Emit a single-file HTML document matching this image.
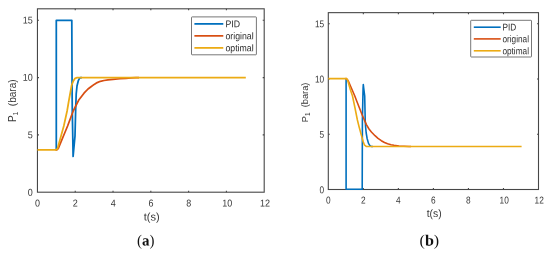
<!DOCTYPE html>
<html><head><meta charset="utf-8"><title>Figure</title>
<style>
html,body{margin:0;padding:0;background:#fff;}
svg{display:block;}
text{font-family:"Liberation Sans",Arial,sans-serif;fill:#383838;}
.tk{font-size:9.6px;}
.lg{font-size:9.2px;fill:#2a2a2a;}
.al{font-size:10px;}
.cap{font-family:"Liberation Serif","Times New Roman",serif;font-size:16px;fill:#111;}
.cap tspan{font-weight:bold;}
</style></head><body>
<svg width="550" height="255" viewBox="0 0 550 255">
<rect width="550" height="255" fill="#fff"/>
<!-- left plot -->
<rect x="37.45" y="8.8" width="226.75" height="183.40" fill="none" stroke="#474747" stroke-width="1.1"/>
<path d="M75.24,192.2v-1.5M75.24,8.8v1.5M113.03,192.2v-1.5M113.03,8.8v1.5M150.82,192.2v-1.5M150.82,8.8v1.5M188.62,192.2v-1.5M188.62,8.8v1.5M226.41,192.2v-1.5M226.41,8.8v1.5M37.45,134.89h1.5M264.2,134.89h-1.5M37.45,77.58h1.5M264.2,77.58h-1.5M37.45,20.26h1.5M264.2,20.26h-1.5" stroke="#474747" stroke-width="1.1" fill="none"/>
<path d="M56.3,150.2 L56.3,20.3 L71.8,20.3 L72.1,90 L72.3,112 L72.75,136 L73.1,156.4 L75.0,136 L75.6,112 L76.2,94 L77,86 L78.3,80.7 L79.4,78.6 L80.4,77.7 L82,77.7" fill="none" stroke="#0070BE" stroke-width="1.75" stroke-linejoin="round" stroke-linecap="butt"/>
<path d="M55.5,149.8 L56.8,149.8 L58.2,148.6 L65.1,132 L67.6,126 L73.2,111 L78.6,100.3 L84,93.2 L88,89 L91,86.7 L94.2,84.4 L97.2,82.6 L100.4,81.3 L104,80.5 L108,79.85 L113,79.3 L120,78.75 L126,78.3 L131,77.95 L136,77.7 L139,77.7" fill="none" stroke="#D84E12" stroke-width="1.75" stroke-linejoin="round" stroke-linecap="butt"/>
<path d="M37.45,149.8 L56.5,149.8 L57.6,148.2 L60.2,139 L62.4,131 L63.8,126 L67.1,111 L68.8,101 L71.7,85 L73.2,81.3 L75.1,78.3 L77,77.7 L245.8,77.7" fill="none" stroke="#ECAB14" stroke-width="1.75" stroke-linejoin="round" stroke-linecap="butt"/>
<text transform="translate(37.55,206.45) rotate(0.06) scale(0.9,1)" text-anchor="middle" class="tk" style="font-size:10px">0</text>
<text transform="translate(75.34,206.45) rotate(0.06) scale(0.9,1)" text-anchor="middle" class="tk" style="font-size:10px">2</text>
<text transform="translate(113.13,206.45) rotate(0.06) scale(0.9,1)" text-anchor="middle" class="tk" style="font-size:10px">4</text>
<text transform="translate(150.92,206.45) rotate(0.06) scale(0.9,1)" text-anchor="middle" class="tk" style="font-size:10px">6</text>
<text transform="translate(188.72,206.45) rotate(0.06) scale(0.9,1)" text-anchor="middle" class="tk" style="font-size:10px">8</text>
<text transform="translate(227.31,206.45) rotate(0.06) scale(0.9,1)" text-anchor="middle" class="tk" style="font-size:10px">10</text>
<text transform="translate(265.10,206.45) rotate(0.06) scale(0.9,1)" text-anchor="middle" class="tk" style="font-size:10px">12</text>
<text transform="translate(32.75,195.85) rotate(0.06) scale(0.9,1)" text-anchor="end" class="tk" style="font-size:10px">0</text>
<text transform="translate(32.75,138.14) rotate(0.06) scale(0.9,1)" text-anchor="end" class="tk" style="font-size:10px">5</text>
<text transform="translate(32.75,80.83) rotate(0.06) scale(0.9,1)" text-anchor="end" class="tk" style="font-size:10px">10</text>
<text transform="translate(32.75,23.51) rotate(0.06) scale(0.9,1)" text-anchor="end" class="tk" style="font-size:10px">15</text>
<rect x="191.5" y="16.9" width="64.90" height="37.90" fill="#fff" stroke="#5e5e5e" stroke-width="0.85" rx="0.6"/>
<path d="M194.4,23.9H223.3" stroke="#0070BE" stroke-width="1.75"/>
<text transform="translate(225.50,27.30) rotate(0.06) scale(0.9,1)" class="lg" style="font-size:9.7px">PID</text>
<path d="M194.4,35.85H223.3" stroke="#D84E12" stroke-width="1.75"/>
<text transform="translate(225.50,39.25) rotate(0.06) scale(0.9,1)" class="lg" style="font-size:9.7px">original</text>
<path d="M194.4,47.9H223.3" stroke="#ECAB14" stroke-width="1.75"/>
<text transform="translate(225.50,51.30) rotate(0.06) scale(0.9,1)" class="lg" style="font-size:9.7px">optimal</text>
<text transform="translate(151.60,220.50) rotate(0.06) scale(1.0,1)" text-anchor="middle" class="al" style="font-size:11px">t(s)</text>
<text transform="translate(15.7,122.1) rotate(-90) scale(1.0,1)" class="al" style="font-size:10px">P<tspan style="font-size:6.80px" dy="2.00">1</tspan><tspan dy="-2.00" dx="5.50">(bara)</tspan></text>
<text transform="translate(145.80,245.60) rotate(0.06) scale(0.96,1)" text-anchor="middle" class="cap" style="font-size:15.6px">(<tspan>a</tspan>)</text>
<!-- right plot -->
<rect x="328.3" y="12.65" width="210.20" height="176.85" fill="none" stroke="#474747" stroke-width="1.1"/>
<path d="M363.33,189.5v-1.5M363.33,12.65v1.5M398.37,189.5v-1.5M398.37,12.65v1.5M433.40,189.5v-1.5M433.40,12.65v1.5M468.43,189.5v-1.5M468.43,12.65v1.5M503.47,189.5v-1.5M503.47,12.65v1.5M328.3,134.23h1.5M538.5,134.23h-1.5M328.3,78.97h1.5M538.5,78.97h-1.5M328.3,23.70h1.5M538.5,23.70h-1.5" stroke="#474747" stroke-width="1.1" fill="none"/>
<path d="M346.1,78.4 L346.1,189.25 L362.2,189.25 L362.4,120 L362.9,96 L363.1,88 L363.3,84.6 L363.7,88 L364.7,96 L365.2,120 L365.6,127 L366.2,133 L367.06,138.2 L368.5,143.4 L369.9,145.6 L371.2,146.45 L373,146.45" fill="none" stroke="#0070BE" stroke-width="1.6" stroke-linejoin="round" stroke-linecap="butt"/>
<path d="M345.5,78.6 L346.3,78.6 L348.2,80.7 L354.8,96 L356.5,100.5 L362.2,115 L366.4,124.6 L369,129 L371.4,132 L375,135.7 L378,138.4 L381.3,140.7 L384.5,142.5 L387.6,143.8 L391,144.7 L394,145.3 L399,145.95 L404,146.25 L409,146.45 L411,146.45" fill="none" stroke="#D84E12" stroke-width="1.6" stroke-linejoin="round" stroke-linecap="butt"/>
<path d="M328.3,78.6 L346.5,78.6 L347.5,79.7 L350.3,89.5 L352.5,96 L355,108 L357.4,120 L359,126.5 L361.4,135.4 L363.3,142 L364.6,145.2 L366.2,146.45 L521.6,146.45" fill="none" stroke="#ECAB14" stroke-width="1.6" stroke-linejoin="round" stroke-linecap="butt"/>
<text transform="translate(328.20,203.50) rotate(0.06) scale(0.84,1)" text-anchor="middle" class="tk" style="font-size:9.9px">0</text>
<text transform="translate(363.23,203.50) rotate(0.06) scale(0.84,1)" text-anchor="middle" class="tk" style="font-size:9.9px">2</text>
<text transform="translate(398.27,203.50) rotate(0.06) scale(0.84,1)" text-anchor="middle" class="tk" style="font-size:9.9px">4</text>
<text transform="translate(433.30,203.50) rotate(0.06) scale(0.84,1)" text-anchor="middle" class="tk" style="font-size:9.9px">6</text>
<text transform="translate(468.33,203.50) rotate(0.06) scale(0.84,1)" text-anchor="middle" class="tk" style="font-size:9.9px">8</text>
<text transform="translate(504.17,203.50) rotate(0.06) scale(0.84,1)" text-anchor="middle" class="tk" style="font-size:9.9px">10</text>
<text transform="translate(539.20,203.50) rotate(0.06) scale(0.84,1)" text-anchor="middle" class="tk" style="font-size:9.9px">12</text>
<text transform="translate(324.20,193.35) rotate(0.06) scale(0.84,1)" text-anchor="end" class="tk" style="font-size:9.9px">0</text>
<text transform="translate(324.20,137.68) rotate(0.06) scale(0.84,1)" text-anchor="end" class="tk" style="font-size:9.9px">5</text>
<text transform="translate(324.20,82.42) rotate(0.06) scale(0.84,1)" text-anchor="end" class="tk" style="font-size:9.9px">10</text>
<text transform="translate(324.20,27.15) rotate(0.06) scale(0.84,1)" text-anchor="end" class="tk" style="font-size:9.9px">15</text>
<rect x="470.7" y="20.3" width="60.80" height="36.70" fill="#fff" stroke="#5e5e5e" stroke-width="0.85" rx="0.6"/>
<path d="M473.8,27.2H500.7" stroke="#0070BE" stroke-width="1.6"/>
<text transform="translate(502.40,30.60) rotate(0.06) scale(0.85,1)" class="lg" style="font-size:9.7px">PID</text>
<path d="M473.8,38.9H500.7" stroke="#D84E12" stroke-width="1.6"/>
<text transform="translate(502.40,42.30) rotate(0.06) scale(0.85,1)" class="lg" style="font-size:9.7px">original</text>
<path d="M473.8,50.8H500.7" stroke="#ECAB14" stroke-width="1.6"/>
<text transform="translate(502.40,54.20) rotate(0.06) scale(0.85,1)" class="lg" style="font-size:9.7px">optimal</text>
<text transform="translate(434.20,217.00) rotate(0.06) scale(0.96,1)" text-anchor="middle" class="al" style="font-size:10.8px">t(s)</text>
<text transform="translate(308.0,122.2) rotate(-90) scale(1.0,1)" class="al" style="font-size:9.3px">P<tspan style="font-size:6.32px" dy="1.86">1</tspan><tspan dy="-1.86" dx="5.12">(bara)</tspan></text>
<text transform="translate(429.40,245.50) rotate(0.06) scale(1.03,1)" text-anchor="middle" class="cap" style="font-size:15.6px">(<tspan>b</tspan>)</text>
</svg>
</body></html>
